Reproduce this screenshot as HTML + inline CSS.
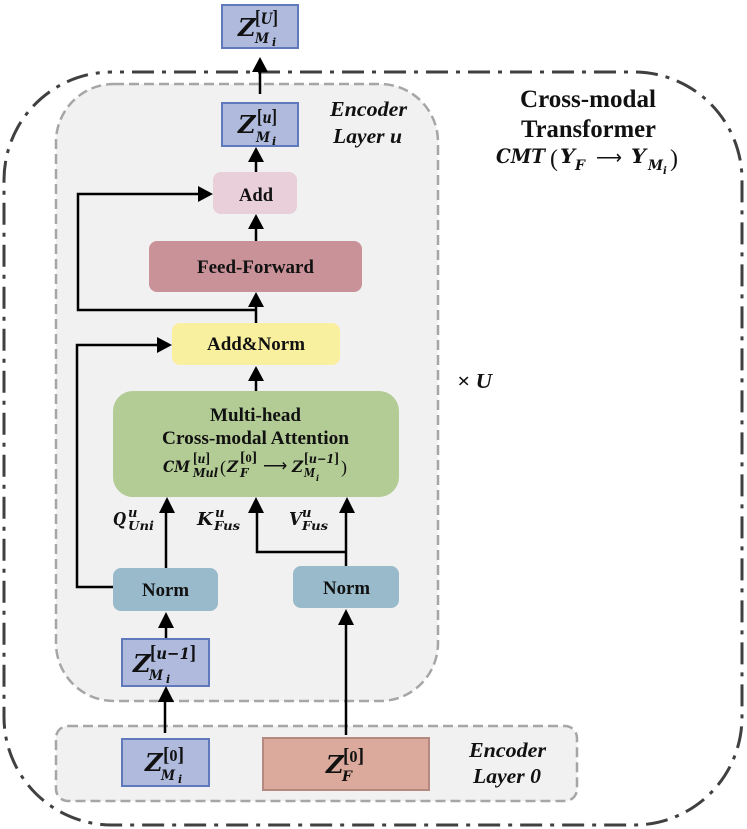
<!DOCTYPE html>
<html><head><meta charset="utf-8"><style>
html,body{margin:0;padding:0;background:#fff}
svg{display:block}
text{font-family:"Liberation Serif",serif;font-weight:bold;fill:#111}
.i{font-style:italic}
.d{font-family:"DejaVu Serif","Liberation Serif",serif;font-weight:bold;font-style:italic}
.b{font-family:"Liberation Serif",serif;font-weight:bold;font-style:normal}
.p{font-family:"Liberation Serif",serif;font-weight:normal;font-style:normal}
</style></head><body>
<svg width="747" height="829" viewBox="0 0 747 829" xmlns="http://www.w3.org/2000/svg">
<rect x="56" y="84" width="382" height="617" rx="58" fill="#f1f1f1" stroke="#a6a6a6" stroke-width="2.5" stroke-dasharray="10 5"/>
<rect x="56" y="726" width="521" height="75" rx="12" fill="#f1f1f1" stroke="#a6a6a6" stroke-width="2.5" stroke-dasharray="10 5"/>
<rect x="4" y="72" width="738" height="753" rx="108" fill="none" stroke="#404040" stroke-width="3" stroke-dasharray="22 8 4 8" stroke-dashoffset="22"/>

<g fill="#afbadd" stroke="#6079bd" stroke-width="2">
<rect x="222" y="5" width="76" height="43"/>
<rect x="222" y="103" width="76" height="43"/>
<rect x="122" y="639" width="87" height="47"/>
<rect x="122" y="739" width="87" height="47"/>
</g>
<rect x="263" y="738" width="166" height="52" fill="#dcaa9c" stroke="#b48a80" stroke-width="2"/>
<rect x="213" y="172" width="84" height="42" rx="8" fill="#e8cfd9"/>
<rect x="149" y="241" width="213" height="51" rx="8" fill="#c99299"/>
<rect x="172" y="323" width="168" height="42" rx="8" fill="#f8f09f"/>
<rect x="113" y="391" width="286" height="106" rx="20" fill="#b3cc95"/>
<rect x="113" y="568" width="105" height="43" rx="8" fill="#98bacb"/>
<rect x="293" y="566" width="106" height="42" rx="8" fill="#98bacb"/>

<g fill="none" stroke="#000" stroke-width="2.5">
<path d="M260 94V70"/>
<path d="M256 172V160"/>
<path d="M256 241V226"/>
<path d="M256 323V305"/>
<path d="M256 310H78V194H200"/>
<path d="M113 587H77V345H160"/>
<path d="M256 391V380"/>
<path d="M166 568V510"/>
<path d="M346 566V510"/>
<path d="M346 552H257V510"/>
<path d="M166 638V628"/>
<path d="M165 733V700"/>
<path d="M346 735V625"/>
</g>
<g fill="#000">
<polygon points="260,57 252,72 268,72"/>
<polygon points="256,147 248,162 264,162"/>
<polygon points="256,214 248,229 264,229"/>
<polygon points="256,292 248,307 264,307"/>
<polygon points="213,194 198,186 198,202"/>
<polygon points="172,345 157,337 157,353"/>
<polygon points="256,366 248,381 264,381"/>
<polygon points="167,497 159,513 175,513"/>
<polygon points="256,497 248,513 264,513"/>
<polygon points="347,497 339,513 355,513"/>
<polygon points="166,612 158,628 174,628"/>
<polygon points="166,686 158,702 174,702"/>
<polygon points="346,609 338,625 354,625"/>
</g>

<text class="d" x="238" y="36" font-size="24">Z</text><text class="d" x="255" y="24" font-size="16" textLength="23" lengthAdjust="spacingAndGlyphs"><tspan class="b" font-size="20">[</tspan>U<tspan class="b" font-size="20">]</tspan></text><text class="d" x="255" y="43" font-size="14" textLength="14" lengthAdjust="spacingAndGlyphs">M</text><text class="d" x="272" y="46" font-size="11">i</text>

<text class="d" x="238" y="133" font-size="24">Z</text><text class="d" x="257" y="123" font-size="16" textLength="20" lengthAdjust="spacingAndGlyphs"><tspan class="b" font-size="20">[</tspan>u<tspan class="b" font-size="20">]</tspan></text><text class="d" x="256" y="142" font-size="14" textLength="14" lengthAdjust="spacingAndGlyphs">M</text><text class="d" x="272" y="145" font-size="11">i</text>

<text class="d" x="133" y="672" font-size="24">Z</text><text class="d" x="150" y="659" font-size="16" textLength="46" lengthAdjust="spacingAndGlyphs"><tspan class="b" font-size="20">[</tspan>u−1<tspan class="b" font-size="20">]</tspan></text><text class="d" x="149" y="680" font-size="14" textLength="14" lengthAdjust="spacingAndGlyphs">M</text><text class="d" x="166" y="683" font-size="11">i</text>

<text class="d" x="145" y="771" font-size="24">Z</text><text class="d" x="163" y="761" font-size="17" textLength="21" lengthAdjust="spacingAndGlyphs"><tspan class="b" font-size="20">[</tspan><tspan class="b">0</tspan><tspan class="b" font-size="20">]</tspan></text><text class="d" x="161" y="780" font-size="14" textLength="14" lengthAdjust="spacingAndGlyphs">M</text><text class="d" x="178" y="783" font-size="11">i</text>

<text class="d" x="326" y="773" font-size="24">Z</text><text class="d" x="343" y="762" font-size="17" textLength="21" lengthAdjust="spacingAndGlyphs"><tspan class="b" font-size="20">[</tspan><tspan class="b">0</tspan><tspan class="b" font-size="20">]</tspan></text><text class="d" x="342" y="781" font-size="14">F</text>

<text x="239" y="201" font-size="19" textLength="34" lengthAdjust="spacingAndGlyphs">Add</text>
<text x="197" y="273" font-size="19" textLength="117" lengthAdjust="spacingAndGlyphs">Feed-Forward</text>
<text x="207" y="350" font-size="19" textLength="98" lengthAdjust="spacingAndGlyphs">Add&amp;Norm</text>
<text x="210" y="421" font-size="19" textLength="91" lengthAdjust="spacingAndGlyphs">Multi-head</text>
<text x="162" y="444" font-size="19" textLength="187" lengthAdjust="spacingAndGlyphs">Cross-modal Attention</text>
<text x="142" y="596" font-size="19" textLength="47" lengthAdjust="spacingAndGlyphs">Norm</text>
<text x="323" y="594" font-size="19" textLength="47" lengthAdjust="spacingAndGlyphs">Norm</text>

<text class="d" x="163" y="472" font-size="16" textLength="27" lengthAdjust="spacingAndGlyphs">CM</text>
<text class="d" x="193" y="463" font-size="12" textLength="17" lengthAdjust="spacingAndGlyphs"><tspan class="b" font-size="15">[</tspan>u<tspan class="b" font-size="15">]</tspan></text>
<text class="d" x="193" y="477" font-size="12" textLength="25" lengthAdjust="spacingAndGlyphs">Mul</text>
<text class="p" x="220" y="473" font-size="18">(</text>
<text class="d" x="227" y="472" font-size="16" textLength="11" lengthAdjust="spacingAndGlyphs">Z</text>
<text class="d" x="240" y="462" font-size="12" textLength="17" lengthAdjust="spacingAndGlyphs"><tspan class="b" font-size="15">[</tspan><tspan class="b">0</tspan><tspan class="b" font-size="15">]</tspan></text>
<text class="d" x="240" y="477" font-size="12">F</text>
<text class="p" x="263" y="471" font-size="17">⟶</text>
<text class="d" x="292" y="472" font-size="16" textLength="11" lengthAdjust="spacingAndGlyphs">Z</text>
<text class="d" x="304" y="463" font-size="12" textLength="35" lengthAdjust="spacingAndGlyphs"><tspan class="b" font-size="15">[</tspan>u−1<tspan class="b" font-size="15">]</tspan></text>
<text class="d" x="304" y="477" font-size="12" textLength="11" lengthAdjust="spacingAndGlyphs">M</text>
<text class="d" x="316" y="481" font-size="8">i</text>
<text class="p" x="341" y="473" font-size="18">)</text>

<text class="d" x="113" y="525" font-size="18" textLength="13" lengthAdjust="spacingAndGlyphs">Q</text><text class="d" x="128" y="517" font-size="13">u</text><text class="d" x="128" y="530" font-size="12" textLength="26" lengthAdjust="spacingAndGlyphs">Uni</text>
<text class="d" x="197" y="525" font-size="18" textLength="16" lengthAdjust="spacingAndGlyphs">K</text><text class="d" x="215" y="517" font-size="13">u</text><text class="d" x="214" y="530" font-size="12" textLength="26" lengthAdjust="spacingAndGlyphs">Fus</text>
<text class="d" x="289" y="525" font-size="18" textLength="13" lengthAdjust="spacingAndGlyphs">V</text><text class="d" x="302" y="517" font-size="13">u</text><text class="d" x="302" y="530" font-size="12" textLength="26" lengthAdjust="spacingAndGlyphs">Fus</text>

<text class="i" x="330" y="116" font-size="21" textLength="77" lengthAdjust="spacingAndGlyphs">Encoder</text>
<text class="i" x="333" y="143" font-size="21" textLength="69" lengthAdjust="spacingAndGlyphs">Layer u</text>
<text class="i" x="469" y="757" font-size="21" textLength="77" lengthAdjust="spacingAndGlyphs">Encoder</text>
<text class="i" x="473" y="783" font-size="21" textLength="68" lengthAdjust="spacingAndGlyphs">Layer 0</text>
<text class="i" x="457" y="388" font-size="21" textLength="35" lengthAdjust="spacingAndGlyphs">× U</text>

<text x="520" y="107" font-size="25" textLength="136" lengthAdjust="spacingAndGlyphs">Cross-modal</text>
<text x="521" y="137" font-size="25" textLength="135" lengthAdjust="spacingAndGlyphs">Transformer</text>
<text class="d" x="496" y="163" font-size="20" textLength="49" lengthAdjust="spacingAndGlyphs">CMT</text>
<text class="p" x="550" y="166" font-size="24">(</text>
<text class="d" x="560" y="163" font-size="20" textLength="15" lengthAdjust="spacingAndGlyphs">Y</text>
<text class="d" x="575" y="170" font-size="14">F</text>
<text class="p" x="596" y="164" font-size="20" textLength="26" lengthAdjust="spacingAndGlyphs">⟶</text>
<text class="d" x="631" y="163" font-size="20" textLength="15" lengthAdjust="spacingAndGlyphs">Y</text>
<text class="d" x="648" y="170" font-size="14" textLength="15" lengthAdjust="spacingAndGlyphs">M</text>
<text class="d" x="663" y="174" font-size="10">i</text>
<text class="p" x="670" y="166" font-size="24">)</text>
</svg>
</body></html>
